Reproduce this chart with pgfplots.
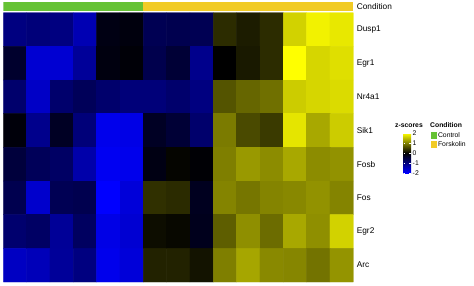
\documentclass[border=0pt]{standalone}
\usepackage{pgfplots}
\pgfplotsset{compat=1.18}
\usepackage{pgfplotstable}
\usepackage{fontspec}
\setmainfont{Liberation Sans}
\usetikzlibrary{calc}

\definecolor{ctrlgreen}{RGB}{102,194,52}
\definecolor{forskyellow}{RGB}{241,203,38}

% z-scores: one row per gene (0 = Dusp1 ... 7 = Arc), columns 0-5 Control, 6-14 Forskolin
\pgfplotstableread{
x y z
0 0 -1.00
1 0 -0.95
2 0 -1.00
3 0 -1.40
4 0 -0.15
5 0 -0.10
6 0 -0.65
7 0 -0.62
8 0 -0.65
9 0 0.35
10 0 0.22
11 0 0.35
12 0 1.65
13 0 1.90
14 0 1.82

0 1 -0.35
1 1 -1.65
2 1 -1.65
3 1 -1.20
4 1 -0.12
5 1 -0.05
6 1 -0.60
7 1 -0.42
8 1 -1.10
9 1 0.00
10 1 0.20
11 1 0.35
12 1 2.00
13 1 1.68
14 1 1.75

0 2 -0.85
1 2 -1.55
2 2 -0.85
3 2 -0.70
4 2 -0.85
5 2 -0.95
6 2 -0.95
7 2 -0.85
8 2 -1.00
9 2 0.66
10 2 0.80
11 2 0.88
12 2 1.60
13 2 1.68
14 2 1.72

0 3 -0.08
1 3 -1.10
2 3 -0.28
3 3 -0.95
4 3 -1.85
5 3 -1.80
6 3 -0.28
7 3 -0.42
8 3 -0.85
9 3 0.97
10 3 0.58
11 3 0.46
12 3 1.80
13 3 1.32
14 3 1.60

0 4 -0.47
1 4 -0.70
2 4 -0.78
3 4 -1.33
4 4 -1.90
5 4 -1.85
6 4 -0.15
7 4 0.04
8 4 -0.04
9 4 1.00
10 4 1.20
11 4 1.10
12 4 1.32
13 4 1.10
14 4 1.15

0 5 -0.62
1 5 -1.60
2 5 -0.66
3 5 -0.62
4 5 -2.00
5 5 -1.70
6 5 0.38
7 5 0.34
8 5 -0.24
9 5 1.04
10 5 0.93
11 5 1.04
12 5 1.07
13 5 1.15
14 5 1.04

0 6 -0.86
1 6 -0.78
2 6 -1.18
3 6 -0.75
4 6 -1.80
5 6 -1.65
6 6 0.10
7 6 0.06
8 6 -0.22
9 6 0.74
10 6 1.12
11 6 0.85
12 6 1.32
13 6 1.12
14 6 1.65

0 7 -1.52
1 7 -1.45
2 7 -1.20
3 7 -1.00
4 7 -1.85
5 7 -1.70
6 7 0.27
7 7 0.27
8 7 0.15
9 7 1.00
10 7 1.30
11 7 1.08
12 7 1.05
13 7 0.90
14 7 1.16
}\zscores

\begin{document}
\begin{tikzpicture}[x=1pt,y=1pt]
\useasboundingbox (0,0) rectangle (474,285);

% main heatmap with its colour key
\begin{axis}[
  at={(3.3pt,3pt)}, anchor=south west,
  width=350pt, height=269.3pt, scale only axis,
  xmin=-0.5, xmax=14.5, ymin=-0.5, ymax=7.5, y dir=reverse,
  axis line style={draw=none}, xtick=\empty,
  ytick={0,...,7},
  yticklabels={Dusp1,Egr1,Nr4a1,Sik1,Fosb,Fos,Egr2,Arc},
  yticklabel pos=right, major tick length=0pt,
  yticklabel style={font=\fontsize{8.3}{10}\selectfont},
  colormap={zscore}{rgb255=(0,0,255) rgb255=(0,0,0) rgb255=(255,255,0)},
  point meta min=-2, point meta max=2,
  colorbar,
  colorbar style={
    at={($(parent axis.south west)+(391.7pt,149pt)$)}, anchor=north west,
    width=7.5pt, height=40pt, scale only axis,
    axis line style={draw=none},
    ytick={-2,-1,0,1,2}, yticklabels={-2,-1,0,1,2},
    yticklabel pos=right, ytick pos=both,
    tick align=inside, major tick length=1.6pt,
    tick style={white, line width=0.6pt},
    yticklabel style={font=\fontsize{6.8}{8}\selectfont, inner sep=1.5pt},
  },
]
\addplot[matrix plot*, mesh/cols=15, point meta=explicit, draw=none]
  table[x=x, y=y, meta=z] {\zscores};
\end{axis}

% condition annotation bar and its legend
\begin{axis}[
  at={(3.3pt,274.3pt)}, anchor=south west,
  width=350pt, height=9.2pt, scale only axis,
  xmin=0, xmax=15, ymin=0, ymax=1,
  axis line style={draw=none}, xtick=\empty,
  ytick={0.5}, yticklabels={Condition},
  yticklabel pos=right, major tick length=0pt,
  yticklabel style={font=\fontsize{8.3}{10}\selectfont},
  legend style={at={(1.2211,-13.152)}, anchor=north west,
    draw=none, fill=none, inner sep=0pt,
    font=\fontsize{6.8}{8}\selectfont, row sep=1pt,
    nodes={inner sep=0.6pt}},
  legend cell align=left,
  legend image code/.code={\fill[#1] (0pt,-3.3pt) rectangle (6.6pt,3.3pt);},
]
\addplot[fill=ctrlgreen, draw=none] coordinates {(0,1) (6,1)} \closedcycle;
\addlegendentry{Control}
\addplot[fill=forskyellow, draw=none] coordinates {(6,1) (15,1)} \closedcycle;
\addlegendentry{Forskolin}
\end{axis}

\node[anchor=base west, inner sep=0pt, font=\bfseries\fontsize{6.8}{8}\selectfont] at (395,157.3) {z-scores};
\node[anchor=base west, inner sep=0pt, font=\bfseries\fontsize{6.8}{8}\selectfont] at (430,157.3) {Condition};
\end{tikzpicture}
\end{document}
